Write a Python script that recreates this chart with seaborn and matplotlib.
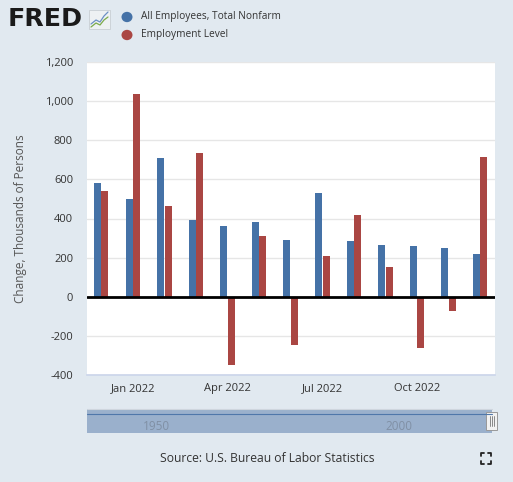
import pandas as pd
import matplotlib.pyplot as plt
import seaborn as sns
from matplotlib.patches import Rectangle, Circle
from matplotlib.lines import Line2D

# Monthly change, thousands of persons
months = ['Dec 2021', 'Jan 2022', 'Feb 2022', 'Mar 2022', 'Apr 2022', 'May 2022', 'Jun 2022',
          'Jul 2022', 'Aug 2022', 'Sep 2022', 'Oct 2022', 'Nov 2022', 'Dec 2022']
nonfarm = [582, 500, 710, 392, 362, 382, 290, 531, 285, 264, 259, 249, 218]
employment = [541, 1037, 464, 735, -348, 311, -247, 208, 418, 152, -261, -72, 715]
series_names = ['All Employees, Total Nonfarm', 'Employment Level']
colors = ['#4572a7', '#aa4643']
tick_months = ['Jan 2022', 'Apr 2022', 'Jul 2022', 'Oct 2022']
y_ticks = list(range(-400, 1201, 200))

df = pd.DataFrame({
    'month': months * 2,
    'change': nonfarm + employment,
    'series': [series_names[0]] * len(months) + [series_names[1]] * len(months),
})

sns.set_theme(style='white')
plt.rcParams['font.family'] = ['Open Sans', 'DejaVu Sans']

bg = '#e1e9f0'
W, H = 513, 482
fig = plt.figure(figsize=(W / 100, H / 100), dpi=100, facecolor=bg)
ax = fig.add_axes([87 / W, 1 - 375 / H, 408 / W, 313 / H])
ax.set_facecolor('white')

sns.barplot(data=df, x='month', y='change', hue='series', palette=colors,
            width=0.475, gap=0.07, saturation=1, linewidth=0, legend=False, ax=ax)

ax.set_xlim(-0.45, 12.47)
ax.set_ylim(-400, 1200)
ax.set_yticks(y_ticks)
ax.set_yticklabels([f'{v:,}' for v in y_ticks])
ax.set_xticks([months.index(m) for m in tick_months])
ax.set_xticklabels(tick_months)
ax.yaxis.grid(True, color='#e6e6e6', lw=1)
ax.set_axisbelow(True)
ax.axhline(0, color='black', lw=2, zorder=5)

for s in ['top', 'right', 'left']:
    ax.spines[s].set_visible(False)
ax.spines['bottom'].set_color('#ccd6eb')
ax.tick_params(axis='y', length=0, pad=10, labelsize=8, labelcolor='#333333')
ax.tick_params(axis='x', length=8, width=1, color='#ccd6eb', direction='out',
               pad=-2, labelsize=8, labelcolor='#333333')
ax.set_xlabel('')
ax.set_ylabel('Change, Thousands of Persons', fontsize=8.5, color='#555555', va='center')
ax.yaxis.set_label_coords((20 - 87) / 408, 0.5)

# header: logo and legend
fig.text(8 / W, 1 - 19 / H, 'FRED', fontsize=18.2, fontweight='bold', color='#1a1a1a',
         family='DejaVu Sans', va='center', ha='left')
fig.patches.append(Rectangle((89 / W, 1 - 29 / H), 21 / W, 19 / H, transform=fig.transFigure,
                             facecolor='#eef1f3', edgecolor='#c9cfd4', lw=0.6))
fig.lines.append(Line2D([91 / W, 96 / W, 100 / W, 104 / W, 108 / W],
                        [1 - 24 / H, 1 - 20 / H, 1 - 22 / H, 1 - 16 / H, 1 - 12 / H],
                        transform=fig.transFigure, color='#6b8fc4', lw=0.9))
fig.lines.append(Line2D([91 / W, 96 / W, 100 / W, 104 / W, 108 / W],
                        [1 - 27 / H, 1 - 23 / H, 1 - 25 / H, 1 - 20 / H, 1 - 17 / H],
                        transform=fig.transFigure, color='#7cab4a', lw=0.9))
for i, (name, c) in enumerate(zip(series_names, colors)):
    y = 1 - (17 + 18 * i) / H
    fig.patches.append(Circle((127 / W, y), 5.5 / W, transform=fig.transFigure,
                              facecolor=c, edgecolor='none'))
    fig.text(141 / W, y, name, fontsize=7.3, color='#333333', va='center', ha='left')

# navigator strip
fig.patches.append(Rectangle((87 / W, 1 - 433 / H), 405 / W, 24 / H, transform=fig.transFigure,
                             facecolor='#9ab0cc', edgecolor='none'))
fig.lines.append(Line2D([87 / W, 492 / W], [1 - 414 / H, 1 - 414 / H],
                        transform=fig.transFigure, color='#4f77aa', lw=0.8))
fig.lines.append(Line2D([87 / W, 492 / W], [1 - 409 / H, 1 - 409 / H],
                        transform=fig.transFigure, color='#cfd6de', lw=0.8))
fig.text(156 / W, 1 - 426 / H, '1950', fontsize=8.5, color='#8090a5', ha='center', va='center')
fig.text(399 / W, 1 - 426 / H, '2000', fontsize=8.5, color='#8090a5', ha='center', va='center')
fig.patches.append(Rectangle((486 / W, 1 - 430 / H), 11 / W, 18 / H, transform=fig.transFigure,
                             facecolor='#f2f2f2', edgecolor='#999999', lw=0.7))
for xx in (489.5, 491.5, 493.5):
    fig.lines.append(Line2D([xx / W, xx / W], [1 - 426 / H, 1 - 416 / H],
                            transform=fig.transFigure, color='#777777', lw=0.6))

fig.text(267 / W, 1 - 458 / H, 'Source: U.S. Bureau of Labor Statistics', fontsize=8.7,
         color='#333333', ha='center', va='center')

# fullscreen icon
for cx, cy, dx, dy in [(481, 453, 1, 1), (491, 453, -1, 1), (481, 464, 1, -1), (491, 464, -1, -1)]:
    fig.lines.append(Line2D([(cx + 3 * dx) / W, cx / W, cx / W],
                            [1 - cy / H, 1 - cy / H, 1 - (cy + 3 * dy) / H],
                            transform=fig.transFigure, color='#222222', lw=1.3))

fig.savefig('out.png', dpi=100, facecolor=bg)
